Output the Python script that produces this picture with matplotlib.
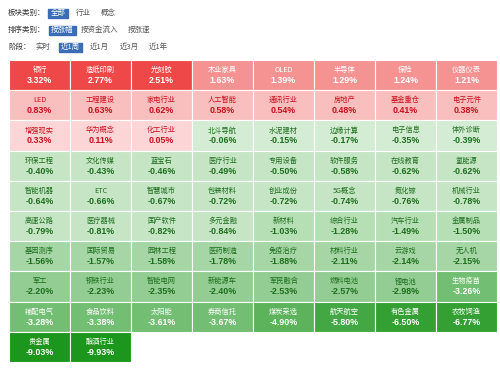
import matplotlib.pyplot as plt
from matplotlib.patches import Rectangle

plt.rcParams['font.family'] = ['Noto Sans CJK SC', 'DejaVu Sans']

names = ['银行', '造纸印刷', '光刻胶', '木业家具', 'OLED', '半导体', '保险', '仪器仪表',
         'LED', '工程建设', '家电行业', '人工智能', '通讯行业', '房地产', '基金重仓', '电子元件',
         '增强现实', '华为概念', '化工行业', '北斗导航', '水泥建材', '边缘计算', '电子信息', '体外诊断',
         '环保工程', '文化传媒', '蓝宝石', '医疗行业', '专用设备', '软件服务', '在线教育', '氢能源',
         '智能机器', 'ETC', '智慧城市', '包装材料', '创业成份', '5G概念', '氮化镓', '机械行业',
         '高速公路', '医疗器械', '国产软件', '多元金融', '新材料', '综合行业', '汽车行业', '金属制品',
         '基因测序', '国际贸易', '园林工程', '医药制造', '免疫治疗', '材料行业', '云游戏', '无人机',
         '军工', '钢铁行业', '智能电网', '新能源车', '军民融合', '燃料电池', '锂电池', '生物疫苗',
         '输配电气', '食品饮料', '太阳能', '券商信托', '煤炭采选', '航天航空', '有色金属', '农牧饲渔',
         '贵金属', '酿酒行业']
values = [3.32, 2.77, 2.51, 1.63, 1.39, 1.29, 1.24, 1.21,
          0.83, 0.63, 0.62, 0.58, 0.54, 0.48, 0.41, 0.38,
          0.33, 0.11, 0.05, -0.06, -0.15, -0.17, -0.35, -0.39,
          -0.40, -0.43, -0.46, -0.49, -0.50, -0.58, -0.62, -0.62,
          -0.64, -0.66, -0.67, -0.72, -0.72, -0.74, -0.76, -0.78,
          -0.79, -0.81, -0.82, -0.84, -1.03, -1.28, -1.49, -1.50,
          -1.56, -1.57, -1.58, -1.78, -1.88, -2.11, -2.14, -2.15,
          -2.20, -2.23, -2.35, -2.40, -2.53, -2.57, -2.98, -3.26,
          -3.28, -3.38, -3.61, -3.67, -4.90, -5.80, -6.50, -6.77,
          -9.03, -9.93]

filter_rows = [
    ('板块类别：', ['全部', '行业', '概念'], 0),
    ('排序类别：', ['按涨幅', '按资金流入', '按涨速'], 0),
    ('阶段：', ['实时', '近1周', '近1月', '近3月', '近1年'], 1),
]


def cell_style(v):
    # (background, text colour)
    if v >= 2:
        return '#ef4848', 'white'
    if v >= 1:
        return '#f59393', 'white'
    if v >= 0.35:
        return '#f9bebe', '#c8101c'
    if v >= 0:
        return '#fcd6d6', '#c8101c'
    if v > -0.4:
        return '#d3ecd3', '#1d6e1d'
    if v > -1.0:
        return '#c5e5c5', '#1d6e1d'
    if v > -1.55:
        return '#b6dfb6', '#1d6e1d'
    if v > -2.18:
        return '#a6d6a6', '#1d6e1d'
    if v > -3.0:
        return '#93cd93', '#1d6e1d'
    if v > -4.0:
        return '#72be72', 'white'
    if v > -5.0:
        return '#5cb35c', 'white'
    if v > -6.0:
        return '#43a843', 'white'
    if v > -7.0:
        return '#34a034', 'white'
    return '#1c961c', 'white'


fig = plt.figure(figsize=(5, 3.69), dpi=100)
ax = fig.add_axes([0, 0, 1, 1])
ax.set_xlim(0, 500)
ax.set_ylim(369, 0)
ax.axis('off')

# filter header
row_y = [13, 30, 47]
opt_x = [[58, 83, 108], [62, 100, 139], [43, 70, 99, 129, 158]]
box_w = [20, 27, 23]
for (label, opts, sel), y, xs, bw in zip(filter_rows, row_y, opt_x, box_w):
    ax.text(8, y, label, fontsize=5.4, color='#333333', va='center', ha='left')
    for k, (o, x) in enumerate(zip(opts, xs)):
        if k == sel:
            ax.add_patch(Rectangle((x - bw / 2, y - 4.5), bw, 9, color='#3a6db5'))
            ax.text(x, y, o, fontsize=5.4, color='white', va='center', ha='center')
        else:
            ax.text(x, y, o, fontsize=5.4, color='#555555', va='center', ha='center')

# grid of sectors
x0, y0, cw, ch = 9, 60, 61, 30.2
for i, (n, v) in enumerate(zip(names, values)):
    c, r = i % 8, i // 8
    bg, fg = cell_style(v)
    ax.add_patch(Rectangle((x0 + c * cw, y0 + r * ch), cw, ch, facecolor=bg,
                           edgecolor='white', linewidth=0.8))
    cx = x0 + c * cw + cw / 2
    ax.text(cx, y0 + r * ch + 10, n, fontsize=5.2, color=fg, ha='center', va='center')
    ax.text(cx, y0 + r * ch + 20.5, '%.2f%%' % v, fontsize=6.4, color=fg,
            ha='center', va='center', fontweight='bold', family='Liberation Sans')

fig.savefig('out.png', dpi=100)
